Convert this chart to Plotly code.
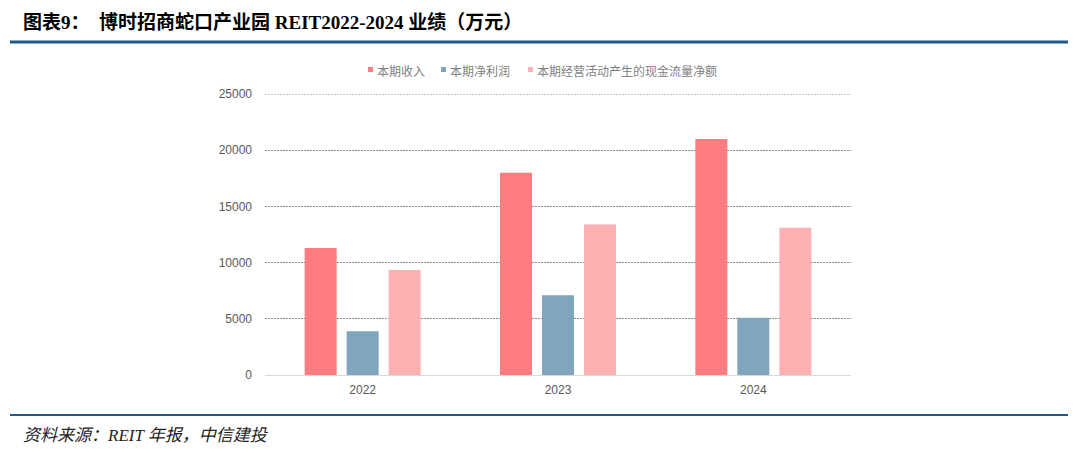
import plotly.graph_objects as go

years = ["2022", "2023", "2024"]
revenue = [11300, 18000, 21000]
net_profit = [3900, 7100, 5100]
op_cash = [9350, 13400, 13100]
series_names = ["本期收入", "本期净利润", "本期经营活动产生的现金流量净额"]
colors = ["#FF7C80", "#7FA6BE", "#FFB0B1"]
y_ticks = [0, 5000, 10000, 15000, 20000, 25000]
y_tick_text = ["0", "5000", "10000", "15000", "20000", "25000"]

fig = go.Figure()
for name, vals, c in zip(series_names, [revenue, net_profit, op_cash], colors):
    fig.add_trace(go.Bar(x=years, y=vals, name=name, marker=dict(color=c, line=dict(width=0)),
                         showlegend=False))

OFF = 8  # page body margin
L, R, T, B = 265 - OFF, 851 - OFF, 94 - OFF, 375 - OFF
W, H = 1080 - OFF, 453 - OFF

def px(x):
    return (x - OFF - L) / (R - L)

def py(y):
    return (B - (y - OFF)) / (B - T)

fig.update_layout(
    width=W, height=H,
    margin=dict(l=L, r=W - R, t=T, b=H - B),
    paper_bgcolor="white", plot_bgcolor="white",
    barmode="group", bargap=0.355, bargroupgap=0.238,
    font=dict(family="Liberation Sans, Noto Sans CJK SC", size=12, color="#595959"),
    xaxis=dict(showgrid=False, showline=True, linecolor="#D9D9D9", linewidth=1,
               ticks="", tickfont=dict(size=12, color="#595959"), ticklabelstandoff=4),
    yaxis=dict(range=[0, 25000], tickvals=y_ticks, ticktext=y_tick_text, showgrid=True,
               gridcolor="#8C8C8C", griddash="2px,1px", gridwidth=1, zeroline=False,
               showline=False, ticks="", tickfont=dict(size=12, color="#595959"),
               ticklabelstandoff=12),
    showlegend=False,
)

# top gridline (at the edge of the range)
fig.add_shape(type="line", xref="paper", yref="y", x0=0, x1=1, y0=y_ticks[-1], y1=y_ticks[-1],
              line=dict(color="#8C8C8C", width=1, dash="2px,1px"), layer="below")

# custom legend (small squares + text)
legend_pos = [368, 441, 528]
for name, c, x in zip(series_names, colors, legend_pos):
    fig.add_shape(type="rect", xref="paper", yref="paper",
                  x0=px(x), x1=px(x + 5), y0=py(72), y1=py(67),
                  fillcolor=c, line=dict(width=0))
    fig.add_annotation(xref="paper", yref="paper", x=px(x + 7), y=py(70), xanchor="left",
                       yanchor="middle", text=name, showarrow=False,
                       font=dict(family="Noto Sans CJK SC", size=12, color="#7F7F7F"))

fig.add_annotation(xref="paper", yref="paper", x=px(21), y=py(22), xanchor="left", yanchor="middle",
                   text="<b>图表9：  博时招商蛇口产业园 REIT2022-2024 业绩（万元）</b>", showarrow=False,
                   font=dict(family="Liberation Serif, Noto Sans CJK SC", size=19, color="#000000"))
fig.add_annotation(xref="paper", yref="paper", x=px(21), y=py(435), xanchor="left", yanchor="middle",
                   text="<i>资料来源：REIT 年报，中信建投</i>", showarrow=False,
                   font=dict(family="Liberation Serif, Noto Sans CJK SC", size=17, color="#222222"))
fig.add_shape(type="line", xref="paper", yref="paper", x0=px(10), x1=px(1068), y0=py(42), y1=py(42),
              line=dict(color="#1F5A8B", width=3))
fig.add_shape(type="line", xref="paper", yref="paper", x0=px(10), x1=px(1068), y0=py(415), y1=py(415),
              line=dict(color="#1F5A8B", width=2))

fig.write_html("out.html")
